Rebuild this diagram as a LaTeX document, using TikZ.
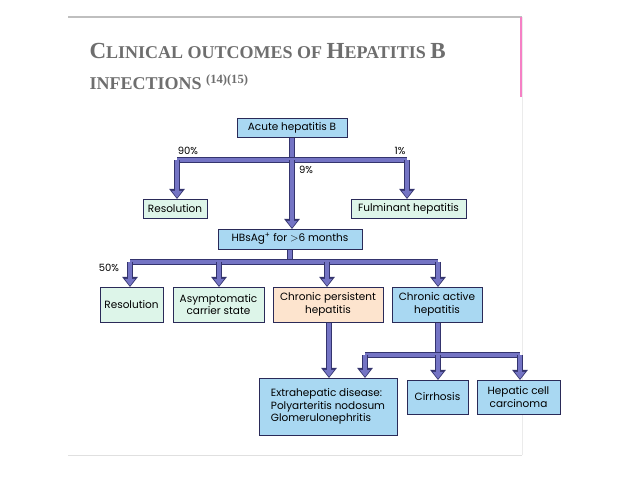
\documentclass[tikz,border=0pt]{standalone}
\usepackage{fontspec}
\setmainfont{Poppins}
\newfontfamily\titlefont{Liberation Serif}
\usetikzlibrary{arrows.meta}
\definecolor{bxblue}{HTML}{A9D8F2}
\definecolor{bxgreen}{HTML}{DDF5E9}
\definecolor{bxpeach}{HTML}{FDE4CE}
\definecolor{arrin}{HTML}{7474C4}
\definecolor{arrout}{HTML}{34346E}
\definecolor{ttl}{HTML}{6E6E6E}
\tikzset{
 bx/.style={draw=arrout!80!black,line width=0.8pt,align=center,inner sep=2pt,font=\fontsize{10.5}{12.5}\selectfont,text=black},
 outer/.style={draw=arrout,line width=6.5pt},
 inner/.style={draw=arrin,line width=4pt},
 outerA/.style={outer,-{Triangle[width=15pt,length=10pt]}},
 innerA/.style={inner,-{Triangle[width=10pt,length=7pt]}},
 pct/.style={font=\fontsize{10}{12}\selectfont,text=black}
}
\newcommand{\barpath}[1]{\draw[outer] #1; \draw[inner] #1;}
\newcommand{\arrpath}[1]{\draw[outerA] #1; \draw[innerA,shorten >=1.2pt] #1;}
\begin{document}
\begin{tikzpicture}[x=1pt,y=-1pt]
\useasboundingbox (0,0) rectangle (638,478);
\fill[white] (0,0) rectangle (638,478);
% frame
\draw[black!25,line width=1.2pt] (68,17) -- (522,17);
\draw[black!12,line width=0.8pt] (68,455) -- (522,455);
\draw[black!8,line width=0.6pt] (522,17) -- (522,455);
\draw[magenta!50,line width=2pt] (521,17) -- (521,97);
% title
\node[anchor=west,text=ttl,font=\titlefont\bfseries\fontsize{23}{26}\selectfont] (t1) at (86,51) {C\fontsize{18}{21}\selectfont LINICAL OUTCOMES OF \fontsize{23}{26}\selectfont H\fontsize{18}{21}\selectfont EPATITIS \fontsize{23}{26}\selectfont B};
\node[anchor=west,text=ttl,font=\titlefont\bfseries\fontsize{18}{21}\selectfont] (t2) at (86,82) {INFECTIONS \textsuperscript{(14)(15)}};
% coordinates
\coordinate (j1) at (292,160);
\coordinate (j1l) at (177,160);
\coordinate (j1r) at (407,160);
\coordinate (j2) at (290,262);
\coordinate (j2a) at (130,262);
\coordinate (j2b) at (219,262);
\coordinate (j2c) at (327,262);
\coordinate (j2d) at (438,262);
\coordinate (j3) at (438,355);
\coordinate (j3a) at (365,355);
\coordinate (j3c) at (520,355);
% connectors
\barpath{(292,138) -- (j1)}
\barpath{(j1l) -- (j1r)}
\arrpath{(j1l) -- (177,199)}
\arrpath{(j1r) -- (407,199)}
\arrpath{(j1) -- (292,229)}
\barpath{(290,249) -- (j2)}
\barpath{(j2a) -- (j2d)}
\arrpath{(j2a) -- (130,287)}
\arrpath{(j2b) -- (219,287)}
\arrpath{(j2c) -- (327,287)}
\arrpath{(j2d) -- (438,287)}
\arrpath{(329,322) -- (329,378)}
\barpath{(438,322) -- (j3)}
\barpath{(j3a) -- (j3c)}
\arrpath{(j3a) -- (365,378)}
\arrpath{(j3) -- (438,380)}
\arrpath{(j3c) -- (520,380)}
% boxes
\node[bx,fill=bxblue,minimum width=110pt,minimum height=19pt] (acute) at (292,128) {Acute hepatitis B};
\node[bx,fill=bxgreen,minimum width=64pt,minimum height=19pt] (res1) at (175,208.5) {Resolution};
\node[bx,fill=bxgreen,minimum width=115pt,minimum height=19pt] (ful) at (408.5,208.5) {Fulminant hepatitis};
\node[bx,fill=bxblue,minimum width=144pt,minimum height=20pt] (hbs) at (290,239) {HBsAg\textsuperscript{+} for $>$6 months};
\node[bx,fill=bxgreen,minimum width=63pt,minimum height=35pt] (res2) at (131.5,304.5) {Resolution};
\node[bx,fill=bxgreen,minimum width=91pt,minimum height=35pt] (asym) at (218.5,304.5) {Asymptomatic\\carrier state};
\node[bx,fill=bxpeach,minimum width=110pt,minimum height=35pt] (cph) at (328,304.5) {Chronic persistent\\hepatitis};
\node[bx,fill=bxblue,minimum width=90pt,minimum height=35pt] (cah) at (437,304.5) {Chronic active\\hepatitis};
\node[bx,fill=bxblue,minimum width=138pt,minimum height=57pt,align=left] (extra) at (328,406.5) {Extrahepatic disease:\\Polyarteritis nodosum\\Glomerulonephritis};
\node[bx,fill=bxblue,minimum width=61pt,minimum height=34pt] (cirr) at (437.5,397) {Cirrhosis};
\node[bx,fill=bxblue,minimum width=83pt,minimum height=34pt] (hcc) at (518.5,397) {Hepatic cell\\carcinoma};
% labels
\node[pct] (p90) at (188,151) {90\%};
\node[pct] (p1) at (400,151) {1\%};
\node[pct] (p9) at (306,170) {9\%};
\node[pct] (p50) at (109,268) {50\%};
\end{tikzpicture}
\end{document}
